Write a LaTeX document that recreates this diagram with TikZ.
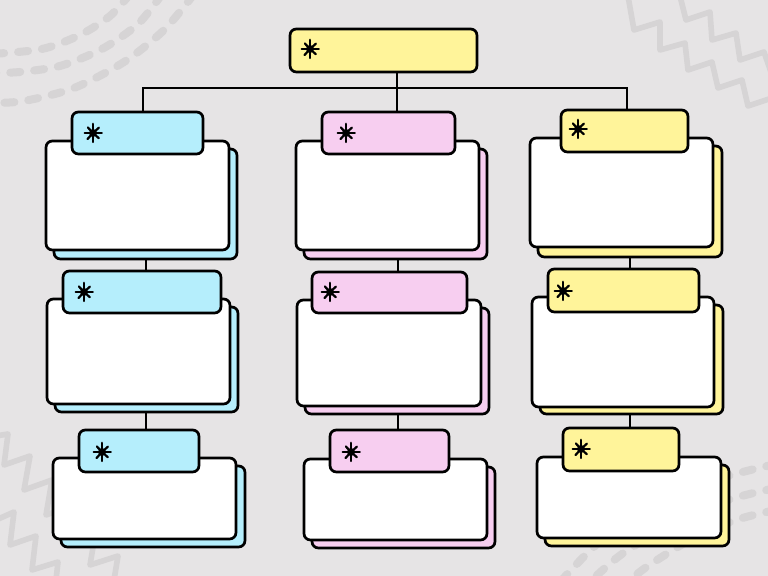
\documentclass[tikz,border=0pt]{standalone}
\usetikzlibrary{fit,backgrounds}
\definecolor{bgcol}{HTML}{E6E4E5}
\definecolor{decocol}{HTML}{D6D4D5}
\definecolor{cblue}{HTML}{B5EEFC}
\definecolor{cpink}{HTML}{F7CEF0}
\definecolor{cyellow}{HTML}{FFF49A}
\tikzset{
  box/.style={draw=black, line width=1.35pt, rounded corners=3.2pt, inner sep=0pt, outer sep=0pt},
  card/.style={box, fill=white},
  conn/.style={draw=black, line width=1.45pt},
  dashdeco/.style={draw=decocol, line width=4pt, line cap=round, dash pattern=on 5pt off 7pt},
  zigdeco/.style={draw=decocol, line width=2.8pt, line join=round, line cap=round},
  starmark/.style={inner sep=0pt, minimum size=11pt, path picture={
    \foreach \a/\l in {0/4.4,42/4.0,90/4.6,133/3.8,180/4.2,228/4.1,270/4.5,318/3.9}
      \draw[line width=1.1pt, line cap=round] (path picture bounding box.center) -- ++(\a:\l pt);
    \fill (path picture bounding box.center) circle (2pt);
  }}
}
\begin{document}
\begin{tikzpicture}[x=0.5pt,y=-0.5pt]
\useasboundingbox (0,0) rectangle (768,576);
% ---------- top node
\node[box, fill=cyellow, fit={(290,29) (477,72)}] (top) {};
\node[starmark] (s0) at (310,49) {};
% ---------- column 1 (blue)
\node[box, fill=cblue, fit={(54,149) (237,259)}] (c1r1s) {};
\node[card, fit={(46,141) (229,250)}] (c1r1w) {};
\node[box, fill=cblue, fit={(72,112) (203,154)}] (c1r1t) {};
\node[starmark] (s11) at (93,133) {};
\node[box, fill=cblue, fit={(55,307) (238,412)}] (c1r2s) {};
\node[card, fit={(47,299) (230,404)}] (c1r2w) {};
\node[box, fill=cblue, fit={(63,271) (221,313)}] (c1r2t) {};
\node[starmark] (s12) at (84,292) {};
\node[box, fill=cblue, fit={(61,466) (245,547)}] (c1r3s) {};
\node[card, fit={(53,458) (236,539)}] (c1r3w) {};
\node[box, fill=cblue, fit={(79,430) (199,472)}] (c1r3t) {};
\node[starmark] (s13) at (102,452) {};
% ---------- column 2 (pink)
\node[box, fill=cpink, fit={(304,149) (487,259)}] (c2r1s) {};
\node[card, fit={(296,141) (479,250)}] (c2r1w) {};
\node[box, fill=cpink, fit={(322,112) (455,154)}] (c2r1t) {};
\node[starmark] (s21) at (346,133) {};
\node[box, fill=cpink, fit={(305,308) (489,414)}] (c2r2s) {};
\node[card, fit={(297,300) (481,406)}] (c2r2w) {};
\node[box, fill=cpink, fit={(312,272) (467,313)}] (c2r2t) {};
\node[starmark] (s22) at (330,292) {};
\node[box, fill=cpink, fit={(312,467) (495,548)}] (c2r3s) {};
\node[card, fit={(304,459) (487,540)}] (c2r3w) {};
\node[box, fill=cpink, fit={(330,430) (449,472)}] (c2r3t) {};
\node[starmark] (s23) at (351,452) {};
% ---------- column 3 (yellow)
\node[box, fill=cyellow, fit={(538,146) (722,257)}] (c3r1s) {};
\node[card, fit={(530,138) (713,247)}] (c3r1w) {};
\node[box, fill=cyellow, fit={(561,110) (688,152)}] (c3r1t) {};
\node[starmark] (s31) at (578,129) {};
\node[box, fill=cyellow, fit={(540,305) (723,414)}] (c3r2s) {};
\node[card, fit={(532,297) (714,407)}] (c3r2w) {};
\node[box, fill=cyellow, fit={(548,269) (699,312)}] (c3r2t) {};
\node[starmark] (s32) at (563,291) {};
\node[box, fill=cyellow, fit={(545,465) (729,546)}] (c3r3s) {};
\node[card, fit={(537,457) (721,538)}] (c3r3w) {};
\node[box, fill=cyellow, fit={(563,428) (679,471)}] (c3r3t) {};
\node[starmark] (s33) at (581,449) {};
% ---------- axes of the connectors
\coordinate (hl) at (143,88);
\coordinate (hm) at (397,88);
\coordinate (hr) at (627,88);
\coordinate (x1) at (146,0);
\coordinate (x2) at (398,0);
\coordinate (x3) at (630,0);
\begin{scope}[on background layer]
  \fill[bgcol] (0,0) rectangle (768,576);
  \begin{scope}
    \clip (0,0) rectangle (768,576);
    % top-left dashed arcs
    \draw[dashdeco] plot[smooth] coordinates {(194,-6) (164,30) (124,62) (74,88) (24,101) (-8,103)};
    \draw[dashdeco] plot[smooth] coordinates {(162,-6) (138,24) (102,49) (60,66) (20,72) (-8,73)};
    \draw[dashdeco] plot[smooth] coordinates {(130,-6) (110,16) (80,35) (42,49) (-8,54)};
    % top-right zigzags
    \draw[zigdeco] (628,-4) -- (634,30) -- (660,22) -- (660,50) -- (685,43) -- (688,70) -- (712,62) -- (718,88) -- (742,80) -- (748,106) -- (772,98);
    \draw[zigdeco] (680,-4) -- (686,20) -- (710,12) -- (712,40) -- (736,33) -- (740,60) -- (764,52) -- (772,75);
    % bottom-left zigzags
    \draw[zigdeco] (-4,436) -- (8,434) -- (4,465) -- (30,456) -- (24,490) -- (52,480) -- (46,515) -- (74,505) -- (68,540) -- (96,530) -- (90,565) -- (118,556) -- (114,580);
    \draw[zigdeco] (-4,520) -- (14,512) -- (10,545) -- (36,536) -- (32,570) -- (58,562) -- (56,580);
    % bottom-right dashed arcs
    \draw[dashdeco] plot[smooth] coordinates {(776,464) (722,478) (662,504) (602,540) (562,580)};
    \draw[dashdeco] plot[smooth] coordinates {(776,488) (728,500) (672,524) (622,554) (592,580)};
    \draw[dashdeco] plot[smooth] coordinates {(776,510) (736,520) (690,540) (648,566) (630,580)};
  \end{scope}
  % connectors
  \draw[conn] (hl |- c1r1t.north) -- (hl) -- (hr) -- (hr |- c3r1t.north);
  \draw[conn] (hm |- top.south) -- (hm |- c2r1t.north);
  \draw[conn] (x1 |- c1r1w.south) -- (x1 |- c1r2t.north);
  \draw[conn] (x1 |- c1r2w.south) -- (x1 |- c1r3t.north);
  \draw[conn] (x2 |- c2r1w.south) -- (x2 |- c2r2t.north);
  \draw[conn] (x2 |- c2r2w.south) -- (x2 |- c2r3t.north);
  \draw[conn] (x3 |- c3r1w.south) -- (x3 |- c3r2t.north);
  \draw[conn] (x3 |- c3r2w.south) -- (x3 |- c3r3t.north);
\end{scope}
\end{tikzpicture}
\end{document}
